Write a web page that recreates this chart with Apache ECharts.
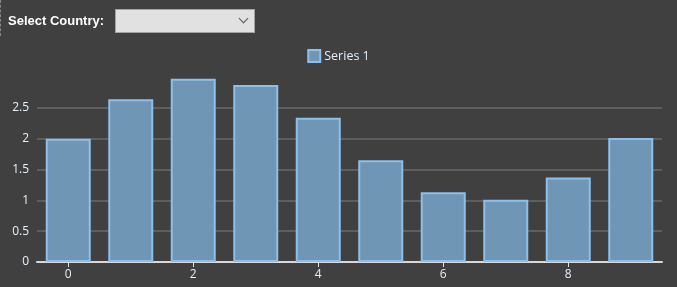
<!DOCTYPE html>
<html><head><meta charset="utf-8">
<script src="https://cdn.jsdelivr.net/npm/echarts@6/dist/echarts.min.js"></script>
<style>
html,body{margin:0;padding:0;background:#404040;}
#wrap{position:relative;width:677px;height:287px;overflow:hidden;background:#404040;}
#chart{position:absolute;left:0;top:0;width:677px;height:287px;}
#lbl{position:absolute;left:8px;top:13px;font:bold 13px "Liberation Sans",Arial,sans-serif;color:#ffffff;}
#sel{position:absolute;left:115px;top:9px;width:138px;height:22px;background:#e1e1e1;border:1px solid #a3a3a3;}
#chev{position:absolute;right:7px;top:5px;width:6px;height:6px;border-right:1.3px solid #555;border-bottom:1.3px solid #555;transform:rotate(45deg);}
#dash{position:absolute;left:0;top:0;width:0;height:36px;border-left:1px dashed #888;}
</style></head>
<body><div id="wrap"><div id="chart"></div><div id="dash"></div><div id="lbl">Select Country:</div><div id="sel"><div id="chev"></div></div></div>
<script>
const categories = ['0','1','2','3','4','5','6','7','8','9'];
const seriesName = 'Series 1';
const values = [2.0, 2.64, 2.97, 2.87, 2.34, 1.65, 1.13, 1.01, 1.37, 2.01];
const yTicks = [0, 0.5, 1, 1.5, 2, 2.5];

const chart = echarts.init(document.getElementById('chart'), null, {renderer:'canvas'});
chart.setOption({
  backgroundColor: 'transparent',
  animation: false,
  legend: {
    top: 44, left: 'center',
    itemWidth: 12, itemHeight: 12, itemGap: 6,
    icon: 'rect',
    textStyle: {color: '#e6eef8', fontSize: 12.5, fontFamily: 'Open Sans', padding: [0,0,0,-1]},
    data: [seriesName]
  },
  grid: {left: 37, right: 15, top: 77, bottom: 25, containLabel: false},
  xAxis: {
    type: 'category', data: categories,
    axisLine: {show: true, lineStyle: {color: '#d8d8d8', width: 2}},
    axisTick: {show: true, alignWithLabel: true, interval: 1, length: 5, lineStyle: {color: '#e0e0e0', width: 1}},
    axisLabel: {interval: 1, color: '#e6eef8', fontSize: 12, fontFamily: 'Open Sans', margin: 7},
    splitLine: {show: false}
  },
  yAxis: {
    type: 'value', min: 0, max: 3, interval: 0.5,
    axisLine: {show: false}, axisTick: {show: false},
    axisLabel: {
      color: '#e6eef8', fontSize: 12, fontFamily: 'Open Sans', margin: 8,
      showMaxLabel: false,
      formatter: v => yTicks.indexOf(v) >= 0 ? String(v) : ''
    },
    splitLine: {show: true, showMaxLine: false, lineStyle: {color: '#5e5e5e', width: 2}}
  },
  series: [{
    name: seriesName, type: 'bar', data: values,
    barWidth: '72%',
    itemStyle: {color: '#7096b6', borderColor: '#8cc0ea', borderWidth: 2}
  }]
});
</script></body></html>
